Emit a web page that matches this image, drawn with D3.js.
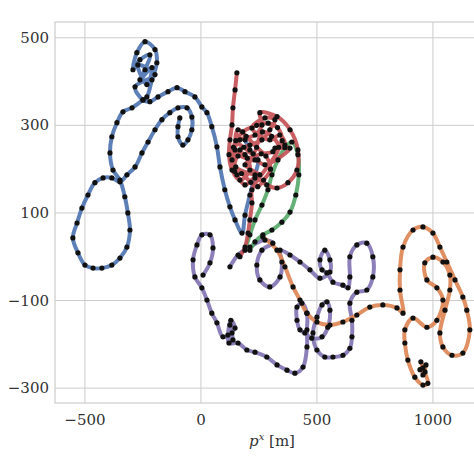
<!DOCTYPE html>
<html><head><meta charset="utf-8">
<script src="https://cdn.jsdelivr.net/npm/d3@7/dist/d3.min.js"></script>
<style>body{margin:0;background:#fff}</style></head>
<body><svg id="c" width="474" height="474"></svg>
<script>
const xTicks=[-500,0,500,1000];
const yTicks=[-300,-100,100,300,500];
const blue=[[-91,317],[-99,297],[-99,274],[-78,255],[-56,267],[-39,290],[-39,319],[-60,340],[-99,340],[-134,329],[-168,313],[-198,290],[-228,262],[-254,237],[-284,205],[-319,187],[-349,171],[-384,180],[-422,180],[-457,169],[-487,141],[-513,111],[-534,77],[-552,43],[-530,9],[-500,-19],[-465,-26],[-427,-26],[-384,-19],[-349,-3],[-319,22],[-306,61],[-315,100],[-328,137],[-349,175],[-379,198],[-392,237],[-384,274],[-362,306],[-336,331],[-297,340],[-250,358],[-233,365],[-211,404],[-190,443],[-198,473],[-241,491],[-276,466],[-293,427],[-263,450],[-220,461],[-241,427],[-263,404],[-211,432],[-233,393],[-272,438],[-198,416],[-284,388],[-250,358],[-220,354],[-185,365],[-142,377],[-103,386],[-69,377],[-26,365],[4,342],[26,329],[47,297],[69,251],[82,205],[103,153],[125,114],[147,84],[177,54],[190,95],[211,141],[233,187],[246,221],[211,244],[190,267]];
const red=[[155,420],[147,381],[138,340],[134,301],[125,267],[121,233],[134,198],[168,175],[211,198],[190,233],[147,244],[168,267],[233,278],[263,301],[254,329],[328,320],[384,290],[418,244],[414,198],[375,169],[328,157],[284,164],[233,180],[190,164],[155,187],[134,221],[168,244],[211,255],[263,267],[297,290],[319,313],[276,317],[220,294],[297,267],[340,278],[362,255],[319,248],[384,248],[276,210],[233,221],[190,210],[254,187],[150,205],[140,250],[180,285],[240,300],[290,305],[330,295],[350,265],[310,240],[260,235],[200,225],[160,230],[145,195],[175,190],[215,170],[245,160],[270,175],[300,200],[280,230],[240,250],[195,275],[160,290],[150,265],[185,250],[225,235],[265,285],[305,275],[335,250],[220,153],[220,123],[211,84],[203,54],[190,22],[168,0]];
const green=[[190,15],[211,50],[233,84],[263,118],[289,153],[306,187],[332,221],[362,249],[392,262],[418,233],[422,187],[409,141],[384,102],[349,79],[306,61],[267,50],[233,34],[211,15]];
const orange=[[267,45],[328,15],[362,-23],[397,-69],[427,-99],[457,-129],[500,-149],[556,-156],[612,-149],[672,-133],[728,-115],[784,-110],[845,-117],[871,-129],[858,-76],[858,-30],[871,22],[914,61],[957,68],[1000,54],[1030,22],[1060,-12],[1095,-53],[1129,-92],[1146,-122],[1159,-167],[1129,-220],[1082,-225],[1043,-206],[1030,-174],[1052,-122],[1073,-76],[1073,-42],[1043,-12],[1000,-1],[965,-14],[974,-53],[1017,-71],[1043,-99],[1017,-145],[974,-161],[914,-140],[879,-167],[879,-197],[892,-236],[922,-275],[957,-293],[978,-289],[957,-254],[948,-240],[966,-263],[944,-258],[970,-247],[957,-270]];
const purple=[[9,-42],[39,-14],[52,20],[39,50],[4,50],[-17,27],[-34,-7],[-26,-46],[4,-71],[26,-99],[47,-129],[69,-151],[95,-183],[134,-174],[125,-156],[138,-190],[116,-179],[147,-163],[129,-145],[121,-197],[160,-197],[198,-213],[233,-218],[284,-229],[328,-247],[371,-259],[405,-266],[440,-252],[457,-206],[457,-167],[457,-129],[435,-106],[414,-115],[414,-145],[427,-167],[448,-174],[478,-186],[522,-183],[547,-161],[556,-122],[543,-103],[522,-110],[500,-138],[483,-174],[500,-213],[534,-229],[569,-229],[612,-225],[642,-209],[651,-183],[651,-145],[642,-106],[672,-81],[715,-76],[741,-46],[741,0],[715,31],[672,27],[642,0],[642,-46],[634,-71],[612,-65],[569,-58],[543,-37],[522,-30],[513,-7],[534,15],[556,-7],[556,-35],[513,-49],[470,-30],[427,-12],[384,4],[341,15],[349,-12],[341,-46],[297,-69],[254,-53],[241,-19],[263,15],[310,31],[276,38],[211,22],[160,4],[125,-23]];
const series=[{d:blue,c:"#4c72b0"},{d:purple,c:"#8172b3"},{d:orange,c:"#dd8452"},{d:green,c:"#55a868"},{d:red,c:"#c44e52"}];

const svg=d3.select("#c");
const L=55,T=22,R=474,B=403;
const x=d3.scaleLinear().domain([-629,1177]).range([L,R]);
const y=d3.scaleLinear().domain([-334,536]).range([B,T]);
const font="'DejaVu Serif','Liberation Serif',serif";
const g=svg.append("g");
xTicks.forEach(t=>g.append("line").attr("x1",x(t)).attr("x2",x(t)).attr("y1",T).attr("y2",B).attr("stroke","#cccccc"));
yTicks.forEach(t=>g.append("line").attr("y1",y(t)).attr("y2",y(t)).attr("x1",L).attr("x2",R).attr("stroke","#cccccc"));
g.append("rect").attr("x",L).attr("y",T).attr("width",R-L+5).attr("height",B-T).attr("fill","none").attr("stroke","#cccccc").attr("stroke-width",1.2);
const line=d3.line().x(d=>x(d[0])).y(d=>y(d[1])).curve(d3.curveCatmullRom);
series.forEach(s=>{
  svg.append("path").attr("d",line(s.d)).attr("fill","none").attr("stroke",s.c).attr("stroke-width",4).attr("stroke-linejoin","round").attr("stroke-linecap","round").attr("opacity",0.9);
});
series.forEach(s=>{
  svg.append("g").selectAll("circle").data(s.d).join("circle").attr("cx",d=>x(d[0])).attr("cy",d=>y(d[1])).attr("r",2.6).attr("fill","#111");
});
const fmt=t=>t<0?"\u2212"+(-t):""+t;
xTicks.forEach(t=>svg.append("text").attr("x",x(t)).attr("y",B+22).attr("text-anchor","middle").attr("font-family",font).attr("font-size",15).attr("fill","#333").text(fmt(t)));
yTicks.forEach(t=>svg.append("text").attr("x",L-6).attr("y",y(t)+5).attr("text-anchor","end").attr("font-family",font).attr("font-size",15).attr("fill","#333").text(fmt(t)));
const lab=svg.append("text").attr("x",272).attr("y",446).attr("text-anchor","middle").attr("font-family",font).attr("font-size",15).attr("fill","#333");
lab.append("tspan").attr("font-style","italic").text("p");
lab.append("tspan").attr("font-style","italic").attr("font-size",10).attr("dy",-6).text("x");
lab.append("tspan").attr("dy",6).text(" [m]");
</script></body></html>
